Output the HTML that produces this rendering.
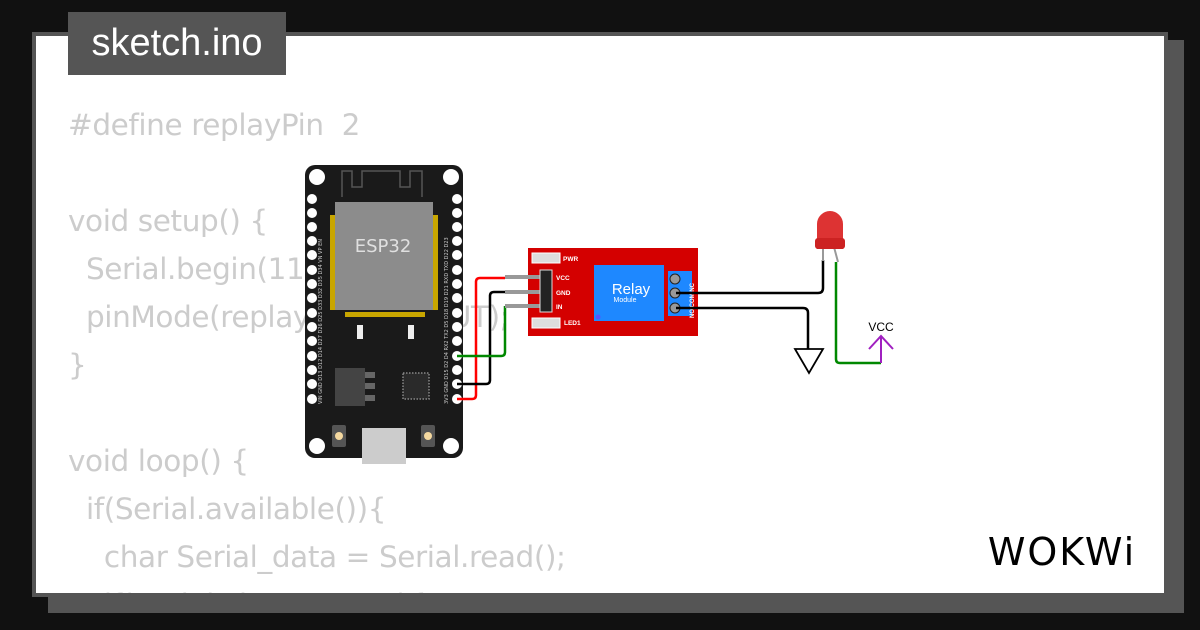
<!DOCTYPE html>
<html><head><meta charset="utf-8"><style>
html,body{margin:0;padding:0;background:#111;width:1200px;height:630px;overflow:hidden;position:relative;font-family:"Liberation Sans","DejaVu Sans",sans-serif}
.shadow{position:absolute;left:48px;top:40px;width:1136px;height:573px;background:#555}
.panel{position:absolute;left:32px;top:32px;width:1128px;height:557px;border:4px solid #555;background:#fff;overflow:hidden}
.label{position:absolute;left:68px;top:12px;width:218px;height:63px;background:#555;color:#fff;font-size:38px;line-height:63px;text-align:center}
.code{position:absolute;left:68px;top:36px;width:1090px;height:557px;overflow:hidden;color:#ccc;font-size:29.5px;white-space:pre;font-family:"DejaVu Sans","Liberation Sans",sans-serif;letter-spacing:-0.4px}
.code div{position:absolute;left:0;height:48px;line-height:48px}
svg{position:absolute;left:0;top:0}
</style></head><body>
<div class="shadow"></div>
<div class="panel"></div>
<div class="code">
<div style="top:65px">#define replayPin  2</div>
<div style="top:161px">void setup() {</div>
<div style="top:209px">  Serial.begin(115200);</div>
<div style="top:257px">  pinMode(replayPin, OUTPUT);</div>
<div style="top:305px">}</div>
<div style="top:401px">void loop() {</div>
<div style="top:449px">  if(Serial.available()){</div>
<div style="top:497px">    char Serial_data = Serial.read();</div>
<div style="top:545px">    if(Serial_data == 'H'){</div>
</div>
<div class="label">sketch.ino</div>
<svg width="1200" height="630" viewBox="0 0 1200 630">
<rect x="305" y="165" width="158" height="293" rx="10" fill="#1a1a1a"/>
<g fill="#fff">
<circle cx="317" cy="177" r="8"/><circle cx="451" cy="177" r="8"/>
<circle cx="317" cy="446" r="8"/><circle cx="451" cy="446" r="8"/>
</g>
<g fill="#fff">
<circle cx="312" cy="199" r="5"/><circle cx="312" cy="213" r="5"/><circle cx="312" cy="227" r="5"/><circle cx="312" cy="241" r="5"/><circle cx="312" cy="255" r="5"/><circle cx="312" cy="270" r="5"/><circle cx="312" cy="284" r="5"/><circle cx="312" cy="298" r="5"/><circle cx="312" cy="313" r="5"/><circle cx="312" cy="327" r="5"/><circle cx="312" cy="341" r="5"/><circle cx="312" cy="356" r="5"/><circle cx="312" cy="370" r="5"/><circle cx="312" cy="384" r="5"/><circle cx="312" cy="399" r="5"/>
<circle cx="457" cy="199" r="5"/><circle cx="457" cy="213" r="5"/><circle cx="457" cy="227" r="5"/><circle cx="457" cy="241" r="5"/><circle cx="457" cy="255" r="5"/><circle cx="457" cy="270" r="5"/><circle cx="457" cy="284" r="5"/><circle cx="457" cy="298" r="5"/><circle cx="457" cy="313" r="5"/><circle cx="457" cy="327" r="5"/><circle cx="457" cy="341" r="5"/><circle cx="457" cy="356" r="5"/><circle cx="457" cy="370" r="5"/><circle cx="457" cy="384" r="5"/><circle cx="457" cy="399" r="5"/>
</g>
<path d="M342 197 V171 H352 V187 H362 V171 H400 V187 H410 V171 H422 V197" fill="none" stroke="#555" stroke-width="1.5"/>
<g fill="#c8a600">
<rect x="330" y="215" width="5" height="95"/><rect x="433" y="215" width="5" height="95"/><rect x="345" y="312" width="80" height="5"/>
</g>
<rect x="335" y="202" width="98" height="108" fill="#8c8c8c"/>
<text x="383" y="252" font-size="18" fill="#e0e0e0" text-anchor="middle" font-family="DejaVu Sans,sans-serif">ESP32</text>
<rect x="357" y="325" width="6" height="14" fill="#eee"/><rect x="408" y="325" width="6" height="14" fill="#eee"/>
<rect x="335" y="368" width="30" height="38" fill="#444"/><rect x="365" y="372" width="10" height="6" fill="#666"/><rect x="365" y="383" width="10" height="6" fill="#666"/><rect x="365" y="395" width="10" height="6" fill="#666"/>
<rect x="403" y="373" width="26" height="26" fill="#2a2a2a" stroke="#888" stroke-width="1.5" stroke-dasharray="1.5 1.5"/>
<rect x="362" y="428" width="44" height="36" fill="#ccc"/>
<rect x="332" y="425" width="14" height="22" rx="2" fill="#555"/><circle cx="339" cy="436" r="4" fill="#f5d9a0"/>
<rect x="421" y="425" width="14" height="22" rx="2" fill="#555"/><circle cx="428" cy="436" r="4" fill="#f5d9a0"/>
<g font-size="5" fill="#ccc" font-family="DejaVu Sans,sans-serif">
<text transform="translate(322,404) rotate(-90)">VIN GND D13 D12 D14 D27 D26 D25 D33 D32 D35 D34 VN VP EN</text>
<text transform="translate(448,404) rotate(-90)">3V3 GND D15 D2 D4 RX2 TX2 D5 D18 D19 D21 RXD TXD D22 D23</text>
</g>
<path d="M457 399 H472 Q476 399 476 395 V282 Q476 278 480 278 H505" fill="none" stroke="#f00" stroke-width="2.5"/>
<path d="M457 384 H486 Q490 384 490 380 V296 Q490 292 494 292 H505" fill="none" stroke="#000" stroke-width="2.5"/>
<path d="M457 356 H501 Q505 356 505 352 V306" fill="none" stroke="#080" stroke-width="2.5"/>
<rect x="528" y="248" width="170" height="88" fill="#d40000"/>
<rect x="505" y="275" width="41" height="4" fill="#999"/><rect x="505" y="290" width="41" height="4" fill="#999"/><rect x="505" y="304" width="41" height="4" fill="#999"/>
<rect x="540" y="270" width="12" height="42" fill="#222" stroke="#ddd" stroke-width="1"/>
<rect x="532" y="253" width="28" height="10" fill="#ddd" stroke="#fff"/><rect x="532" y="318" width="28" height="10" fill="#ddd" stroke="#fff"/>
<g font-size="6.5" fill="#fff" font-weight="bold">
<text x="563" y="261">PWR</text><text x="556" y="280">VCC</text><text x="556" y="295">GND</text><text x="556" y="309">IN</text><text x="564" y="325">LED1</text>
</g>
<rect x="594" y="265" width="70" height="56" fill="#1e88ff"/>
<text x="631" y="294" font-size="15" fill="#fff" text-anchor="middle">Relay</text>
<text x="625" y="302" font-size="7" fill="#fff" text-anchor="middle">Module</text>
<circle cx="598" cy="317" r="2.5" fill="#55f"/>
<rect x="668" y="271" width="24" height="45" fill="#1e88ff"/>
<g fill="#999" stroke="#222" stroke-width="1"><circle cx="675" cy="279" r="5"/><circle cx="675" cy="293" r="5"/><circle cx="675" cy="308" r="5"/></g>
<text transform="translate(694,318) rotate(-90)" font-size="6" fill="#fff" font-weight="bold">NO COM NC</text>
<path d="M676 293 H818 Q823 293 823 288 V260" fill="none" stroke="#000" stroke-width="2.5"/>
<path d="M676 308 H803 Q808 308 808 313 V349" fill="none" stroke="#000" stroke-width="2.5"/>
<path d="M795 349 H823 L809 373 Z" fill="#fff" stroke="#000" stroke-width="1.8"/>
<path d="M836 262 V359 Q836 363 840 363 H881" fill="none" stroke="#080" stroke-width="2.5"/>
<line x1="823" y1="247" x2="823" y2="261" stroke="#999" stroke-width="2"/>
<line x1="834" y1="247" x2="838" y2="262" stroke="#999" stroke-width="2"/>
<path d="M817 249 V224 A13 13 0 0 1 843 224 V249 Z" fill="#d33"/>
<rect x="815" y="238" width="30" height="11" rx="3" fill="#c22"/>
<text x="881" y="331" font-size="12" text-anchor="middle" fill="#000">VCC</text>
<path d="M881 363 V336 M869 349 L881 336 L893 349" fill="none" stroke="#a020c0" stroke-width="2"/>
<text x="1062" y="565" font-size="38" text-anchor="middle" fill="#000" font-family="DejaVu Sans,sans-serif" letter-spacing="2">WOKWi</text>
</svg>
</body></html>
